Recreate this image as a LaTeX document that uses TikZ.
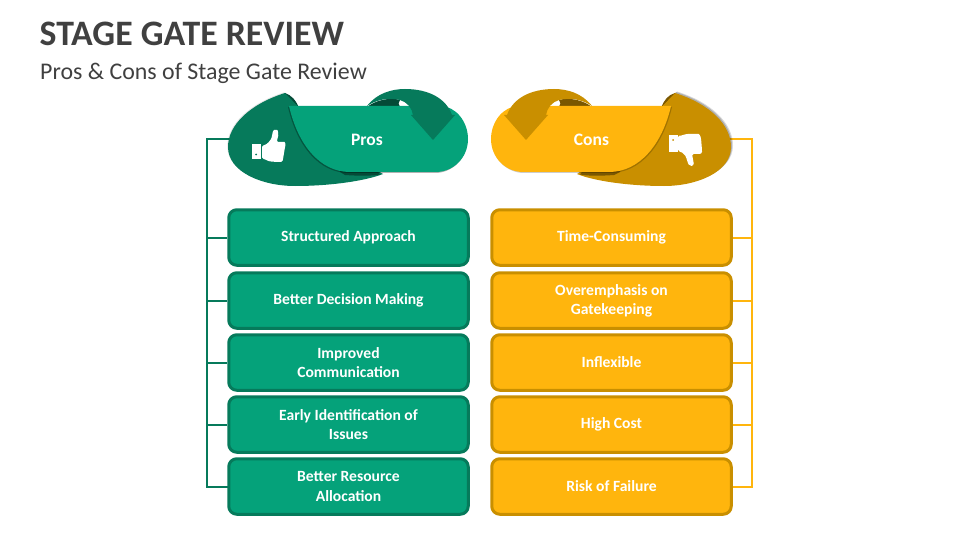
\documentclass[tikz,border=0pt]{standalone}
\usepackage{fontspec}
\setmainfont{Carlito}
\usetikzlibrary{shadows,calc}
\definecolor{grn}{HTML}{05A27A}
\definecolor{grnd}{HTML}{067A5B}
\definecolor{grnk}{HTML}{044A37}
\definecolor{yel}{HTML}{FFB50D}
\definecolor{yeld}{HTML}{C98F00}
\definecolor{yelk}{HTML}{7A5700}
\definecolor{ink}{HTML}{404040}
\tikzset{
 gbox/.style={draw=grnd,fill=grn,line width=3pt,rounded corners=8pt,minimum width=239.5pt,minimum height=55.5pt,align=center,text=white,font=\fontsize{15.6}{19.3}\selectfont\bfseries,inner sep=0pt},
 ybox/.style={gbox,draw=yeld,fill=yel},
 glink/.style={draw=grnd,line width=2pt},
 ylink/.style={draw=yel,line width=2pt},
 head/.style={text=white,font=\fontsize{17.5}{20}\selectfont\bfseries,inner sep=0pt},
 leftshadow/.style={drop shadow={shadow xshift=-.7pt,shadow yshift=.7pt,opacity=.1,fill=black}},
 rightshadow/.style={drop shadow={shadow xshift=1pt,shadow yshift=1pt,opacity=.2,fill=black},drop shadow={shadow xshift=2pt,shadow yshift=1.5pt,opacity=.15,fill=black}},
 gflap/.style={drop shadow={shadow xshift=-1pt,shadow yshift=-1pt,opacity=.3,fill=black}},
 yflap/.style={drop shadow={shadow xshift=1pt,shadow yshift=-1pt,opacity=.2,fill=black}},
}
\begin{document}
\begin{tikzpicture}[x=1pt,y=-1pt]
\useasboundingbox (0,0) rectangle (960,540);
\node[anchor=west,text=ink,font=\fontsize{35.8}{40}\selectfont\bfseries,inner sep=0pt] (title) at (39.5,34) {STAGE GATE REVIEW};
\node[anchor=west,text=ink,font=\fontsize{23.9}{28}\selectfont,inner sep=0pt] (subtitle) at (40,73.5) {Pros \& Cons of Stage Gate Review};

% connectors
\coordinate (pb) at (232,139);
\coordinate (cb) at (728,139);
\draw[glink] (pb) -- (207,139) -- (207,486.5) -- (228,486.5);
\draw[ylink] (cb) -- (752,139) -- (752,486.5) -- (732,486.5);

% boxes
\node[gbox] (p1) at (348.5,237.5) {Structured Approach};
\node[gbox] (p2) at (348.5,300.5) {Better Decision Making};
\node[gbox] (p3) at (348.5,362.5) {Improved\\Communication};
\node[gbox] (p4) at (348.5,424.5) {Early Identification of\\Issues};
\node[gbox] (p5) at (348.5,486.5) {Better Resource\\Allocation};
\node[ybox] (c1) at (611.5,237.5) {Time-Consuming};
\node[ybox] (c2) at (611.5,300.5) {Overemphasis on\\Gatekeeping};
\node[ybox] (c3) at (611.5,362.5) {Inflexible};
\node[ybox] (c4) at (611.5,424.5) {High Cost};
\node[ybox] (c5) at (611.5,486.5) {Risk of Failure};
\foreach \n in {p1,p2,p3,p4} \draw[glink] (207,0 |- \n.west) -- (\n.west);
\foreach \n in {c1,c2,c3,c4} \draw[ylink] (752,0 |- \n.east) -- (\n.east);

% pros blob
\fill[grnk] (285,93) .. controls (291,95) and (296,100) .. (299,108) -- (285,108) -- cycle;
\path[fill=grnd,leftshadow] (285,93) .. controls (250,104) and (228,125) .. (228,147)
  .. controls (228,172) and (262,186) .. (295,186)
  .. controls (330,186) and (365,181) .. (383,174) -- (340,150) -- cycle;
\fill[grnk] (338,165) -- (340,172) -- (345,175) .. controls (360,176) and (372,176) .. (380,174.5) -- (375,168) -- cycle;
% dark band under the arrow
\fill[grnk] (367,107) .. controls (376,100) and (390,97) .. (400,100) .. controls (398,102) and (398,104) .. (401,108) -- cycle;
\path[fill=grn,gflap] (289,106) -- (440,106) .. controls (456,106) and (468,122) .. (468,139)
  .. controls (468,158) and (453,172) .. (436,172) -- (350,172)
  .. controls (320,172) and (298,145) .. (289,106) -- cycle;
% arrow
\fill[grnd] (367,106) .. controls (377,93) and (392,89) .. (405,89)
  .. controls (428,89) and (446,98) .. (452,115) -- (455,115) -- (433,140) -- (411,115) -- (413,115)
  .. controls (412,108) and (407,102) .. (400,100) .. controls (388,97) and (376,100) .. (367,106) -- cycle;
\node[head] (pros) at (367,139.5) {Pros};
% thumbs up
\fill[white] (252,144.5) rectangle (260.5,159.5);
\fill[grnd] (256,154.5) circle (1pt);
\fill[white,rounded corners=1.5pt] (262,145.5) .. controls (267,145) and (271,140) .. (272,136)
  .. controls (272.5,133) and (273,130) .. (275.5,130) .. controls (278,130) and (278.5,134) .. (278,137)
  -- (276.5,142) -- (283,142) .. controls (285.5,142) and (285.5,145) .. (285,147) -- (283,159)
  .. controls (282.5,162) and (280,162) .. (278,162) -- (270,161.5) .. controls (267,160.5) and (265,159) .. (262,159) -- cycle;

% cons blob
\fill[yelk] (675,93) .. controls (668,95) and (664,100) .. (661,108) -- (675,108) -- cycle;
\path[fill=yeld,rightshadow] (675,93) .. controls (710,104) and (731,125) .. (731,147)
  .. controls (731,172) and (697,186) .. (664,186)
  .. controls (629,186) and (594,181) .. (577,174) -- (620,150) -- cycle;
\fill[yelk] (621,165) -- (620,172) -- (614,175) .. controls (600,176) and (588,176) .. (580,174.5) -- (585,168) -- cycle;
\fill[yelk] (592,107) .. controls (583,100) and (569,97) .. (559,100) .. controls (561,102) and (561,104) .. (558,108) -- cycle;
\path[fill=yel,yflap] (671,106) -- (519,106) .. controls (503,106) and (491,122) .. (491,139)
  .. controls (491,158) and (506,172) .. (523,172) -- (609,172)
  .. controls (639,172) and (662,145) .. (671,106) -- cycle;
\fill[yeld] (592,106) .. controls (582,93) and (567,89) .. (554,89)
  .. controls (531,89) and (513,98) .. (507,115) -- (504,115) -- (526,140) -- (548,115) -- (546,115)
  .. controls (547,108) and (552,102) .. (559,100) .. controls (571,97) and (583,100) .. (592,106) -- cycle;
\node[head] (cons) at (591.5,139.5) {Cons};
% thumbs down
\fill[white] (669,135.5) rectangle (677.5,152);
\fill[yeld] (673,140) circle (1pt);
\fill[white,rounded corners=1.5pt] (678,135.5) .. controls (681,136) and (685,134) .. (689,134) -- (697,134)
  .. controls (699,134) and (700,135) .. (701,138) -- (702,150) .. controls (702,153) and (701,154) .. (698,154)
  -- (692,154) -- (693.5,162) .. controls (694,165) and (692,166) .. (690,165.5)
  .. controls (688,164) and (687,160) .. (686,157) .. controls (684,153) and (681,152) .. (678,151) -- cycle;
\end{tikzpicture}
\end{document}
